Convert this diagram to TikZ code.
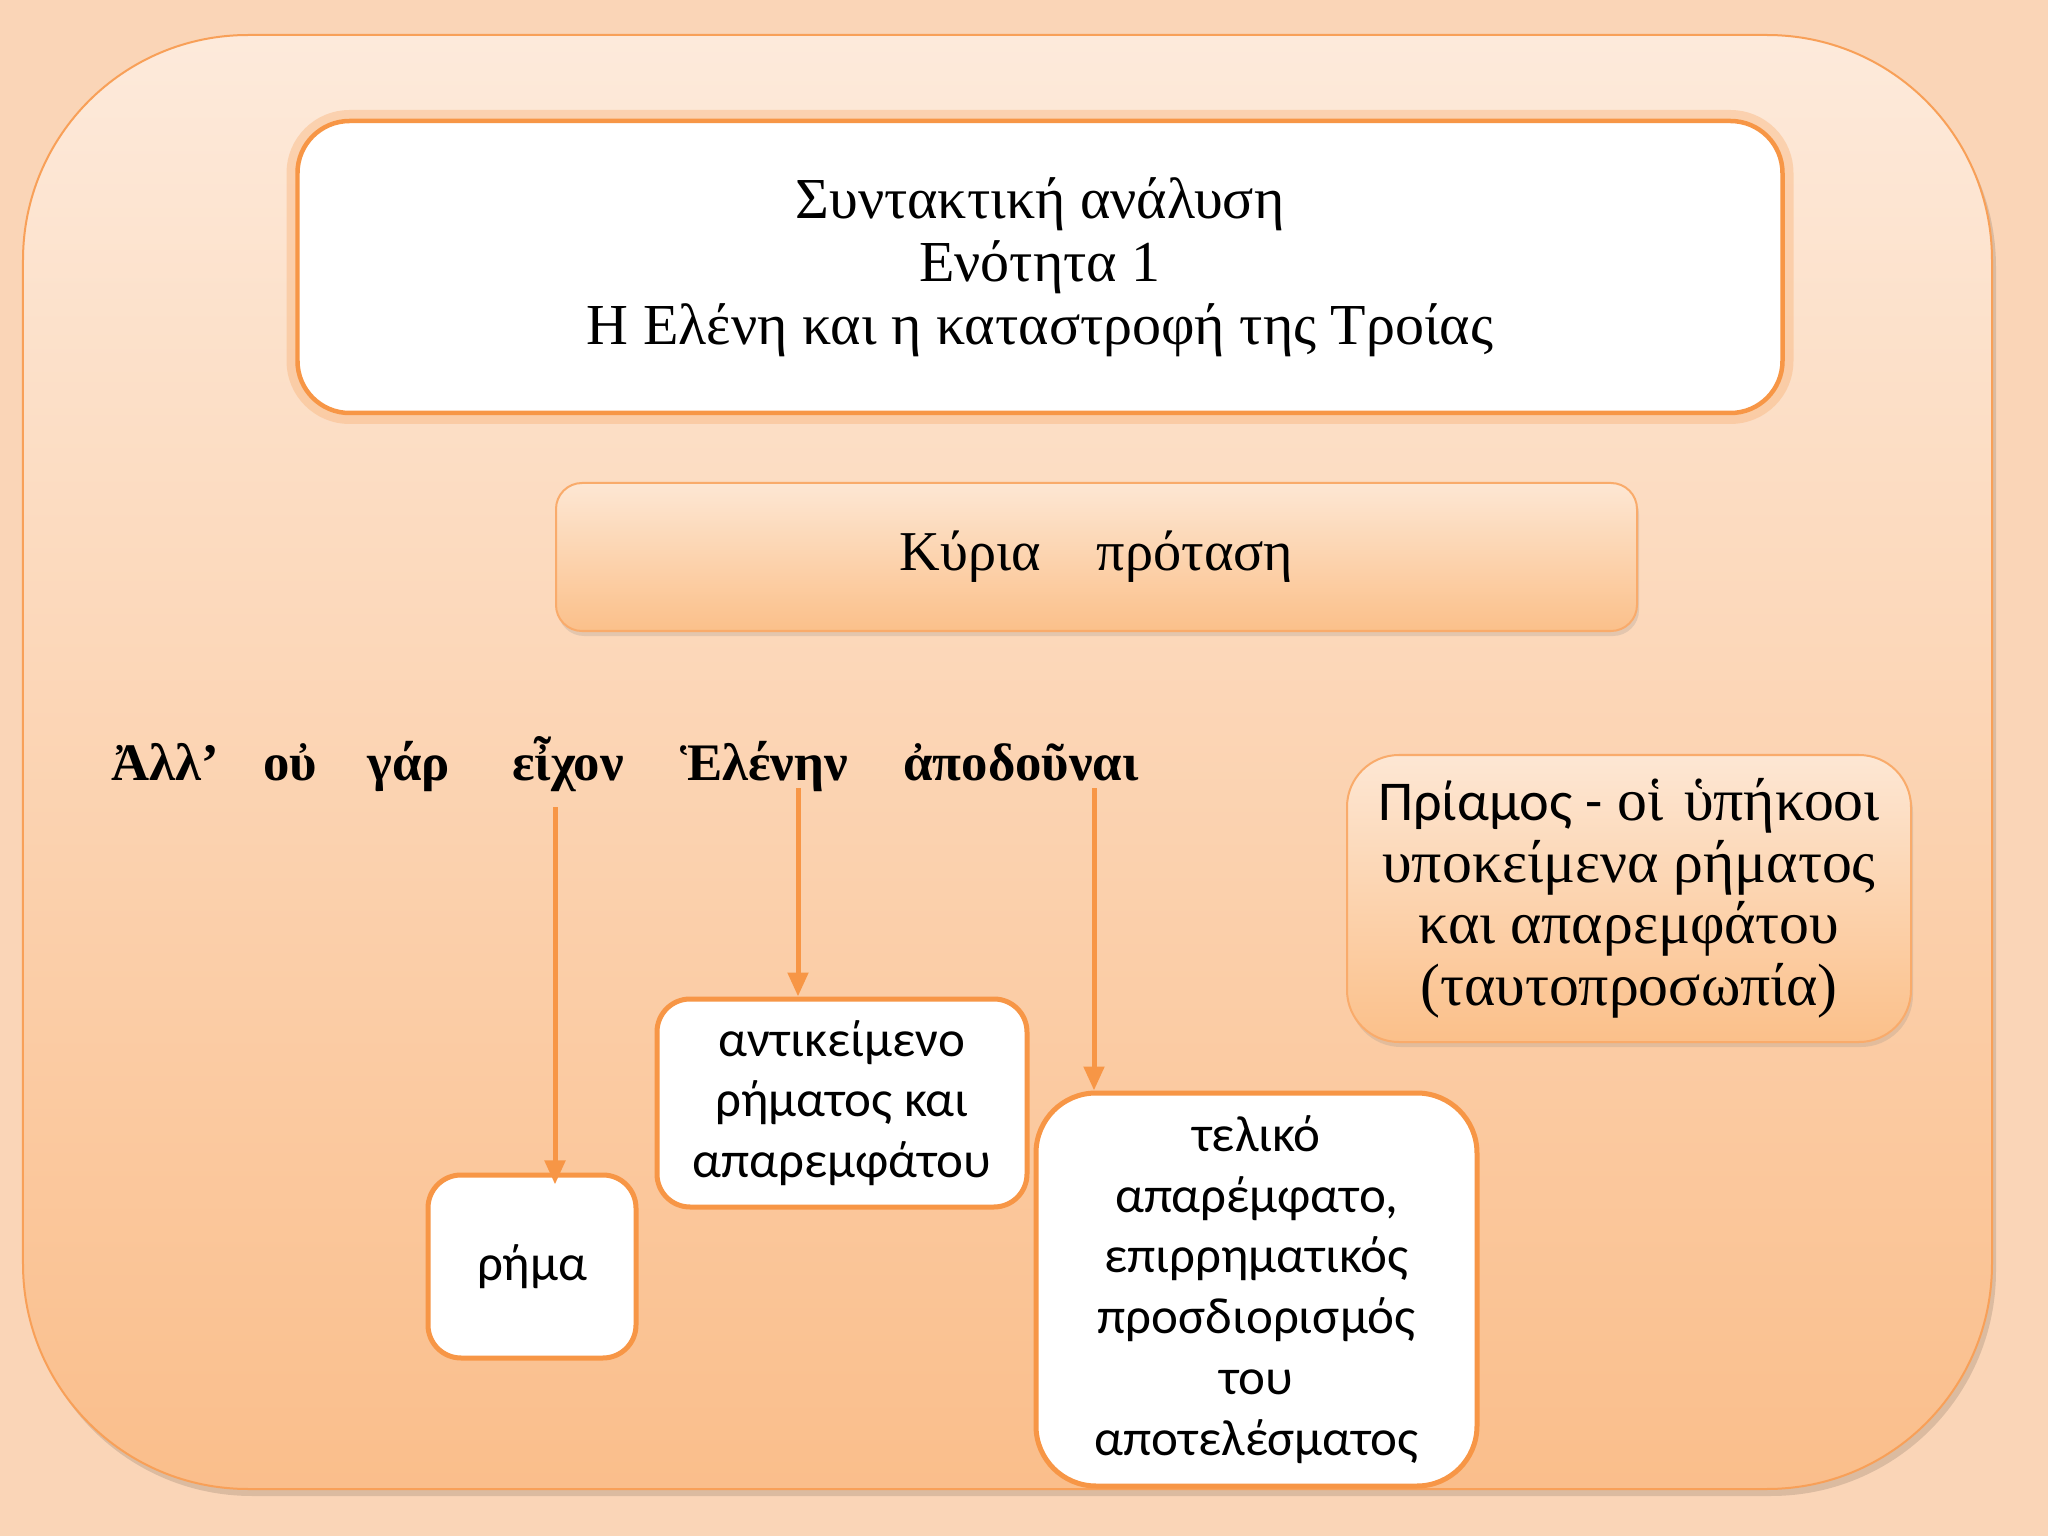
\documentclass[tikz,border=0pt]{standalone}
\usepackage{fontspec}
\setmainfont{Liberation Serif}
\newfontfamily\calibri{Carlito}
\usetikzlibrary{arrows.meta}
\usetikzlibrary{shadows}

\definecolor{bgpeach}{HTML}{FAD5B7}
\definecolor{frametop}{HTML}{FDEADB}
\definecolor{framebot}{HTML}{FABE8B}
\definecolor{accent}{HTML}{F79646}
\definecolor{boxtop}{HTML}{FDE7D4}
\definecolor{boxbot}{HTML}{FBC08A}

\tikzset{
  whitebox/.style={draw=accent, line width=0.05cm, fill=white, rounded corners=0.33cm, align=center, inner sep=0pt, font=\calibri\fontsize{14.5}{17.3}\selectfont},
  peachbox/.style={draw=accent!80, line width=0.02cm, top color=boxtop, bottom color=boxbot, rounded corners=0.52cm, align=center, inner sep=0pt, drop shadow={opacity=0.2, shadow xshift=0.02cm, shadow yshift=-0.05cm}},
  word/.style={font=\bfseries\fontsize{15}{18}\selectfont, inner sep=0pt, anchor=base},
  pointer/.style={draw=accent, line width=0.05cm, -{Triangle[length=0.24cm, width=0.2cm]}},
}

\begin{document}
\begin{tikzpicture}
  \useasboundingbox (0,0) rectangle (20.48,-15.36);
  \fill[bgpeach] (0,0) rectangle (20.48,-15.36);

  % frame
  \fill[black, opacity=0.12, rounded corners=2.25cm] (0.27,-0.42) rectangle (19.96,-14.96);
  \draw[accent!90, line width=0.02cm, top color=frametop, bottom color=framebot, rounded corners=2.25cm] (0.23,-0.35) rectangle (19.92,-14.89);

  % title
  \node[draw=accent, line width=0.045cm, fill=white, rounded corners=0.52cm, minimum width=14.85cm, minimum height=2.92cm, align=center, font=\fontsize{16.5}{17.9}\selectfont, preaction={draw=accent!75, line width=0.22cm, draw opacity=0.4}] (title) at (10.40,-2.67) {Συντακτική ανάλυση\\Ενότητα 1\\Η Ελένη και η καταστροφή της Τροίας};

  \node[peachbox, rounded corners=0.26cm, minimum width=10.81cm, minimum height=1.48cm, font=\fontsize{16}{19}\selectfont] (main) at (10.965,-5.57) {Κύρια\hspace{16pt}πρόταση};

  % sentence
  \node[word] (all) at (1.65,-7.81) {Ἀλλ’};
  \node[word] (ou) at (2.90,-7.81) {οὐ};
  \node[word] (gar) at (4.09,-7.81) {γάρ};
  \node[word] (eixon) at (5.68,-7.81) {εἶχον};
  \node[word] (elenin) at (7.64,-7.81) {Ἑλένην};
  \node[word] (apodounai) at (10.21,-7.81) {ἀποδοῦναι};

  \node[peachbox, minimum width=5.64cm, minimum height=2.87cm, font=\fontsize{17}{17.5}\selectfont] (subj) at (16.29,-8.985) {{\calibri\fontsize{16}{17.5}\selectfont Πρίαμος -} οἱ\hspace{6pt}ὑπήκοοι\\υποκείμενα ρήματος\\και απαρεμφάτου\\(ταυτοπροσωπία)};

  % boxes
  \node[whitebox, minimum width=2.08cm, minimum height=1.83cm] (rima) at (5.32,-12.665) {ρήμα};
  \node[whitebox, minimum width=3.70cm, minimum height=2.08cm] (object) at (8.42,-11.03) {αντικείμενο\\ρήματος και\\απαρεμφάτου};
  \node[whitebox, rounded corners=0.6cm, minimum width=4.41cm, minimum height=3.93cm] (final) at (12.565,-12.895) {τελικό\\απαρέμφατο,\\επιρρηματικός\\προσδιορισμός\\του\\αποτελέσματος};

  % arrows
  \coordinate (p1) at (5.55,-8.07);
  \coordinate (p2) at (7.98,-7.88);
  \coordinate (p3) at (10.94,-7.88);
  \draw[pointer, shorten >=-0.12cm] (p1) -- (p1 |- rima.north);
  \draw[pointer] (p2) -- (p2 |- object.north);
  \draw[pointer] (p3) -- (p3 |- final.north);
\end{tikzpicture}
\end{document}
